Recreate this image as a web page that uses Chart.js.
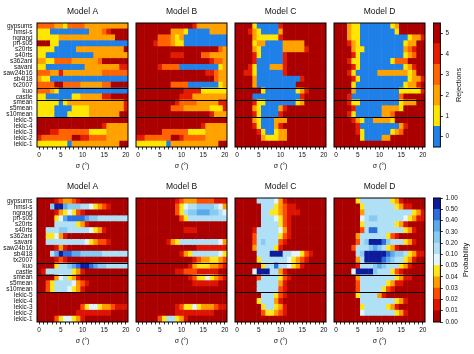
<!DOCTYPE html>
<html>
<head>
<meta charset="utf-8">
<script src="https://cdn.jsdelivr.net/npm/chart.js@4.4.1/dist/chart.umd.min.js"></script>
<style>
  body { margin: 0; background: #fff; width: 474px; height: 354px; position: relative; overflow: hidden; }
  canvas { position: absolute; }
</style>
</head>
<body>
<script>
const rowLabels = ['gypsums', 'hmsl-s', 'ngrand', 'pri-s05', 's20rts', 's40rts', 's362ani', 'savani', 'saw24b16',
  'sb4l18', 'tx2007', 'kuo', 'castle', 'smean', 's5mean', 's10mean', 'lekic-5', 'lekic-4', 'lekic-3', 'lekic-2', 'lekic-1'];
const groupEnds = ['tx2007', 'castle', 's10mean'];
const sigma = [0, 1, 2, 3, 4, 5, 6, 7, 8, 9, 10, 11, 12, 13, 14, 15, 16, 17, 18, 19, 20];
const sigmaLabels = [0, 5, 10, 15, 20];
const models = ['Model A', 'Model B', 'Model C', 'Model D'];

// number of rejections per cell (0..5), one string per row, one digit per sigma
const rejTicks = [0, 1, 2, 3, 4, 5];
const rejColours = ['#1f80e8', '#ffe600', '#ffa200', '#ff6400', '#e41c00', '#aa0000'];

const rejA = ['333322133332222222222', '111000000000222345555', '111112222222222222555', '555110000000000000000',
  '111100000222222222225', '110000000000022222222', '221133332222223555555', '110000000002222222244',
  '333224222222222333333', '211000000000000000000', '333355333322222335555', '333210000000000000000',
  '110000001122222445555', '111110122222222222224', '111100001111222222224', '111100011111222222255',
  '555555555555555555555', '555555555555555422222', '555443333333111122222', '433333335544333322222',
  '111111102222222222255'];
const rejB = ['555555555555542222222', '555555552221000002222', '555553332120000000000', '555543332110000000000',
  '555555555555555555532', '555555554445555332222', '555555555555555554332', '555554333300000000012',
  '555555555555555544322', '555555555555555555322', '555555553333000000012', '555555555554444111111',
  '555555555544422222222', '555555555433332222244', '555555553332222221114', '555555555555555554222',
  '555555555555555555555', '555555555555555422222', '555555333333111122222', '443333335543333322222',
  '111111102222222222255'];
const rejC = ['555510000045555555555', '555421000025555555555', '555521111145555555555', '555512200002222255555',
  '555521000002222245555', '555541000004555555555', '555540000004555555555', '555410002224555555555',
  '554410000004555555555', '555520000000000455555', '555520000000005555555', '555555100000001245555',
  '555500000000000455555', '555541100000001255555', '555521000024555555555', '555541000045555555555',
  '555521000222555555555', '555541000245555555555', '555554100122555555555', '555555211122555555555',
  '555555555555555555555'];
const rejD = ['555211000000012555555', '555211000000001555555', '555211000000000001224', '555421000000000012255',
  '555521100000000023455', '555541000000000012355', '555411000000013335555', '555541000000000012455',
  '555410000022222221255', '555541000000000001224', '555510000000000012245', '555520000000000111114',
  '555400000000000355555', '555411000000000122255', '555540000002222155555', '555410000002235555555',
  '555542100222215555555', '555554000000000245555', '555554100000012355555', '555555100002255555555',
  '555555555555555555555'];

// probability per cell, coded by colour-bar interval
const probTicks = ['0.00', '0.01', '0.02', '0.03', '0.04', '0.05', '0.10', '0.20', '0.30', '0.40', '0.50', '1.00'];
const probBreaks = [0, 0.01, 0.02, 0.03, 0.04, 0.05, 0.10, 0.20, 0.30, 0.40, 0.50, 1.00];
const probColours = ['#aa0000', '#dc1400', '#ff4c00', '#ff9c00', '#ffe61a', '#e2f5fd',
  '#b0e0f6', '#88caf1', '#5ca8ea', '#2d6cdc', '#0c1c9c'];
const probCode = { '0': 0.005, '1': 0.015, '2': 0.025, '3': 0.035, '4': 0.045, '5': 0.075,
  '6': 0.15, '7': 0.25, '8': 0.35, '9': 0.45, 'a': 0.75 };

const probA = ['000012332100000000000', '0007aa877766543210000', '000013454210000000000', '000045899998776666666',
  '000066666431000000000', '006667766666543100000', '004453100000000000000', '006666666665432210000',
  '000013100000000000000', '00068a998877777666666', '000012100000000000000', '0000466789aa987766666',
  '016666664310000000000', '000035643100000000000', '002466665321000000000', '002466654310000000000',
  '000000000000000000000', '000000000000000000000', '000000000024554332111', '000000000111111110000',
  '000024554310000000000'];
const probB = ['000000000123332222111', '000000000245667777653', '000000000246778887765', '000000000024666666666',
  '000000000000000000000', '000000000001110000000', '000000000000000000000', '000000013466666666653',
  '000000000000001111111', '000000000013466666654', '000000000000012334432', '000000000000134443321',
  '000000000112221111100', '000000000000124454321', '000000000000011111100', '000000000000000000000',
  '000000000000000000000', '000000000000000000000', '000000000124454333211', '000000000111111111000',
  '000002466431000000000'];
const probC = ['000006666531000000000', '000000666432110000000', '000000664432111000000', '000000666542100000000',
  '000000666642100000000', '000016666653100000000', '000026666642100000000', '000026766621000000000',
  '000036666410000000000', '00000666aaa6655421000', '000004666666543210000', '000000466966543100000',
  '00005aaa6631000000000', '000002666642100000000', '000006666631000000000', '000006666621000000000',
  '000000666421000000000', '000004666310000000000', '000000466431000000000', '000000244321000000000',
  '000000000000000000000'];
const probD = ['000004666666643100000', '000000466666664311000', '000000366666666666431', '000000567766666654311',
  '000000466666664310000', '000000269966666643100', '000003666666421000000', '00000267aaa9766643100',
  '000026667876431000000', '0000067aaaaa987764311', '0000036aaaa9876643100', '000001666787666431000',
  '00005aaaa766642100000', '000003666666664311000', '000002666666431100000', '000002666664210000000',
  '000004666631000000000', '000000666666664310000', '000000466666431000000', '000000566666664310000',
  '000000000000000000000'];

Chart.defaults.font.family = 'Liberation Sans, Arial, sans-serif';
Chart.defaults.color = '#111';

function rejColour(v) {
  return rejColours[v];
}

function probColour(p) {
  let k = 0;
  for (let i = 0; i < probBreaks.length - 1; i++) {
    if (p >= probBreaks[i]) k = i;
  }
  return probColours[k];
}

const boxPlugin = {
  id: 'box',
  afterDatasetsDraw(chart) {
    const { ctx, chartArea: a, scales: { y } } = chart;
    ctx.save();
    ctx.strokeStyle = '#000';
    ctx.lineWidth = 1;
    groupEnds.forEach(name => {
      const i = rowLabels.indexOf(name);
      const py = Math.round((y.getPixelForValue(i) + y.getPixelForValue(i + 1)) / 2) + 0.5;
      ctx.beginPath();
      ctx.moveTo(a.left, py);
      ctx.lineTo(a.right, py);
      ctx.stroke();
    });
    ctx.strokeRect(a.left, a.top, a.width, a.height);
    ctx.restore();
  }
};

function newCanvas(left, top, width, height) {
  const cv = document.createElement('canvas');
  cv.width = width;
  cv.height = height;
  cv.style.left = left + 'px';
  cv.style.top = top + 'px';
  document.body.appendChild(cv);
  return cv;
}

function panel(plotLeft, top, title, rows, colourOf, labelled) {
  const yW = labelled ? 37 : 0;
  const padL = labelled ? 0 : 6;
  const padR = 6;
  const cv = newCanvas(plotLeft - yW - padL, top, padL + yW + 91 + padR, 175);
  const datasets = sigma.map((s, c) => ({
    data: rows.map(() => [s - 0.62, s + 0.5]),
    backgroundColor: rows.map(r => colourOf(r[c])),
    borderWidth: 0,
    barPercentage: 1.12,
    categoryPercentage: 1,
    grouped: false
  }));
  new Chart(cv, {
    type: 'bar',
    data: { labels: rowLabels, datasets: datasets },
    options: {
      indexAxis: 'y',
      responsive: false,
      animation: false,
      devicePixelRatio: 1,
      layout: { padding: { left: padL, right: padR, top: 0, bottom: 0 } },
      plugins: {
        legend: { display: false },
        tooltip: { enabled: false },
        title: {
          display: true, text: title, fullSize: false, color: '#111',
          font: { size: 8.5, weight: 'normal' }, padding: { top: 7, bottom: 5.8 }
        }
      },
      scales: {
        x: {
          type: 'linear', min: -0.5, max: 20.5,
          afterBuildTicks: s => { s.ticks = sigma.map(v => ({ value: v })); },
          afterFit: s => { s.height = 28; },
          ticks: {
            autoSkip: false, maxRotation: 0, font: { size: 6.5 }, padding: 1.5,
            callback: v => sigmaLabels.includes(v) ? String(v) : ''
          },
          grid: { drawOnChartArea: false, tickLength: 2.5, color: '#000', lineWidth: 0.8 },
          border: { display: false },
          title: { display: true, text: 'σ (°)', font: { size: 7 }, padding: { top: 0, bottom: 4.8 } }
        },
        y: {
          display: labelled,
          afterFit: s => { s.width = yW; },
          grid: { display: false, drawTicks: false },
          border: { display: false },
          ticks: { autoSkip: false, font: { size: 6.4 }, padding: 4.5 }
        }
      }
    },
    plugins: [boxPlugin]
  });
}

function colourBar(top, bands, tickValues, tickText, min, max, title, gap) {
  const cv = newCanvas(433, top, 41, 175);
  const datasets = bands.map(b => ({
    data: [[b.from - 0.05, b.to]],
    backgroundColor: b.colour,
    borderWidth: 0,
    barPercentage: 1,
    categoryPercentage: 1,
    grouped: false
  }));
  const barBox = {
    id: 'barBox',
    afterDraw(chart) {
      const { ctx, chartArea: a } = chart;
      ctx.save();
      ctx.strokeStyle = '#000';
      ctx.lineWidth = 1;
      ctx.strokeRect(a.left, a.top, a.width, a.height);
      ctx.translate(a.right + gap, (a.top + a.bottom) / 2);
      ctx.rotate(-Math.PI / 2);
      ctx.fillStyle = '#111';
      ctx.font = '7.3px Liberation Sans, Arial, sans-serif';
      ctx.textAlign = 'center';
      ctx.textBaseline = 'middle';
      ctx.fillText(title, 0, 0);
      ctx.restore();
    }
  };
  new Chart(cv, {
    type: 'bar',
    data: { labels: [''], datasets: datasets },
    options: {
      responsive: false,
      animation: false,
      devicePixelRatio: 1,
      layout: { padding: { left: 0, right: 0, top: 23, bottom: 28 } },
      plugins: { legend: { display: false }, tooltip: { enabled: false } },
      scales: {
        x: { display: false },
        y: {
          position: 'right', min: min, max: max,
          afterBuildTicks: s => { s.ticks = tickValues.map(v => ({ value: v })); },
          afterFit: s => { s.width = 33.6; },
          ticks: {
            autoSkip: false, font: { size: 6.3 }, padding: 2.5,
            callback: (v, i) => tickText[i]
          },
          grid: { drawOnChartArea: false, tickLength: 2.5, color: '#000', lineWidth: 0.8 },
          border: { display: false }
        }
      }
    },
    plugins: [barBox]
  });
}

const rejSets = [rejA, rejB, rejC, rejD].map(p => p.map(r => r.split('').map(Number)));
const probSets = [probA, probB, probC, probD].map(p => p.map(r => r.split('').map(ch => probCode[ch])));
const plotLefts = [37, 136, 235, 334];

models.forEach((m, i) => {
  panel(plotLefts[i], 0, m, rejSets[i], rejColour, i === 0);
  panel(plotLefts[i], 175, m, probSets[i], probColour, i === 0);
});

colourBar(0, rejTicks.map(k => ({ from: k - 0.5, to: k + 0.5, colour: rejColours[k] })),
  rejTicks, rejTicks.map(String), -0.5, 5.5, 'Rejections', 18.5);
colourBar(175, probColours.map((c, k) => ({ from: k, to: k + 1, colour: c })),
  probTicks.map((t, k) => k), probTicks, 0, 11, 'Probability', 26);
</script>
</body>
</html>
